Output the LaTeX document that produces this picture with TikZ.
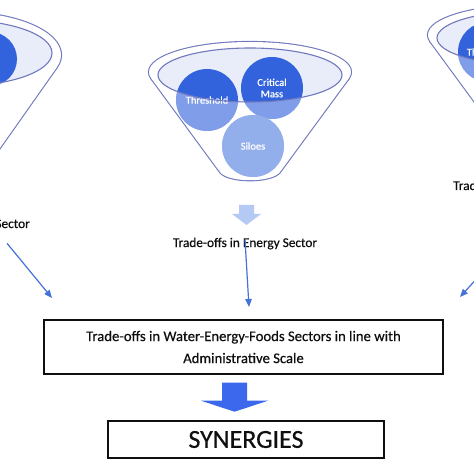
\documentclass[tikz,border=0pt]{standalone}
\usepackage{fontspec}
\setmainfont[FakeBold=0.5]{Carlito}
\usetikzlibrary{arrows.meta,calc}
\definecolor{outl}{RGB}{112,120,190}
\definecolor{rim}{RGB}{232,237,249}
\definecolor{cdark}{RGB}{50,98,220}
\definecolor{clight}{RGB}{82,127,224}
\definecolor{thinblue}{RGB}{68,114,216}
\definecolor{bigblue}{RGB}{59,104,236}
\definecolor{paleblue}{RGB}{180,202,245}
\definecolor{ink}{RGB}{15,15,15}
\begin{document}
\begin{tikzpicture}[x=1bp,y=-1bp,
  funoutline/.style={draw=outl, line width=2.2bp, line join=round},
  rimline/.style={draw=outl, line width=1.1bp},
  ball/.style={circle, fill=cdark, text=white, inner sep=0pt, minimum size=62bp, align=center, font=\fontsize{10.5bp}{11.5bp}\selectfont},
  veil/.style={fill=white, fill opacity=.38, even odd rule},
  sectortxt/.style={inner sep=0pt, text=ink, font=\fontsize{13.3bp}{16bp}\selectfont},
  thinarrow/.style={draw=thinblue, line width=1.2bp, -{Triangle[length=8bp,width=6.5bp]}},
  framebox/.style={draw=ink, line width=1.4bp, inner sep=0pt, text=ink},
]
\useasboundingbox (0,0) rectangle (474,474);
\clip (0,0) rectangle (474,474);

% ---------- left funnel ----------
\draw[funoutline] (-40,55) ellipse [x radius=101bp, y radius=43bp];
\draw[funoutline] (-136.7,67.4) -- (-63,172) -- (-17,172) -- (56.7,67.4) -- cycle;
\fill[white] (-40,55) ellipse [x radius=101bp, y radius=43bp];
\fill[white] (-136.7,67.4) -- (-63,172) -- (-17,172) -- (56.7,67.4) -- cycle;
\fill[rim] (-40,53) ellipse [x radius=92bp, y radius=33bp];
\node[ball, minimum size=54bp] (lcrit) at (-10,59) {};
\begin{scope}
  \clip (-10,59) circle [radius=27bp];
  \fill[veil] (-60,20) rectangle (30,100) (-40,53) ellipse [x radius=92bp, y radius=33bp];
\end{scope}
\draw[rimline] (-40,53) ellipse [x radius=92bp, y radius=33bp];

% ---------- middle funnel ----------
\draw[funoutline] (250,72) ellipse [x radius=101bp, y radius=30bp];
\draw[funoutline] (151.3,78.4) -- (220,172) .. controls (228,183) and (272,183) .. (280,172) -- (348.7,78.4) -- cycle;
\fill[white] (250,72) ellipse [x radius=101bp, y radius=30bp];
\fill[white] (151.3,78.4) -- (220,172) .. controls (228,183) and (272,183) .. (280,172) -- (348.7,78.4) -- cycle;
\fill[rim] (250,75) ellipse [x radius=92bp, y radius=27bp];
\node[ball] (mthr) at (207,100) {Threshold};
\node[ball] (mcrit) at (272,88) {Critical\\Mass};
\node[ball, fill=clight] (msil) at (253,146) {Siloes};
\begin{scope}
  \clip (207,100) circle [radius=31bp] (272,88) circle [radius=31bp] (253,146) circle [radius=31bp];
  \fill[veil] (140,40) rectangle (360,190) (250,75) ellipse [x radius=92bp, y radius=27bp];
\end{scope}
\draw[rimline] (250,75) ellipse [x radius=92bp, y radius=27bp];

% ---------- right funnel ----------
\draw[funoutline] (529,35) ellipse [x radius=101bp, y radius=30bp];
\draw[funoutline] (430.3,41.4) -- (499,135) -- (559,135) -- (627.7,41.4) -- cycle;
\fill[white] (529,35) ellipse [x radius=101bp, y radius=30bp];
\fill[white] (430.3,41.4) -- (499,135) -- (559,135) -- (627.7,41.4) -- cycle;
\fill[rim] (529,38) ellipse [x radius=92bp, y radius=27bp];
\node[ball, minimum size=60bp] (rthr) at (488,52) {Threshold};
\begin{scope}
  \clip (488,52) circle [radius=30bp];
  \fill[veil] (440,10) rectangle (540,100) (529,38) ellipse [x radius=92bp, y radius=27bp];
\end{scope}
\draw[rimline] (529,38) ellipse [x radius=92bp, y radius=27bp];

% ---------- sector texts ----------
\node[sectortxt, anchor=base east] (wtxt) at (30,228) {Trade-offs in Water Sector};
\node[sectortxt, anchor=base] (etxt) at (245,247) {Trade-offs in Energy Sector};
\node[sectortxt, anchor=base west] (ftxt) at (453,190) {Trade-offs in Food Sector};

% pale arrow under middle funnel
\coordinate (pa) at (246.5,205);
\fill[paleblue] (pa) ++(-7.5,0) -- ++(15,0) -- ++(0,9) -- ++(7,0) -- ++(-14.5,11) -- ++(-14.5,-11) -- ++(7,0) -- cycle;

% ---------- boxes ----------
\node[framebox, minimum width=399bp, minimum height=54bp, align=center,
      font=\fontsize{14.7bp}{22bp}\selectfont] (wef) at (243.5,347)
  {Trade-offs in Water-Energy-Foods Sectors in line with\\Administrative Scale};
\node[framebox, minimum width=276bp, minimum height=37bp,
      font=\fontsize{26bp}{30bp}\selectfont] (syn) at (246,439.5) {SYNERGIES};

% ---------- thin arrows ----------
\coordinate (wend) at (52,298);
\coordinate (eend) at (249,307);
\coordinate (fstart) at (490,264);
\coordinate (fend) at (460,297);
\draw[thinarrow] ([xshift=-23bp,yshift=-15bp]wtxt.south east) -- (wend);
\draw[thinarrow] ([yshift=-2bp]etxt.north) -- (eend);
\draw[thinarrow] (fstart) -- (fend);

% ---------- big arrow ----------
\coordinate (ba) at ($(wef.south)+(-9,8)$);
\fill[bigblue] (ba) ++(-12.5,0) -- ++(25,0) -- ++(0,18) -- ++(21,0) -- ++(-33.5,11) -- ++(-33.5,-11) -- ++(21,0) -- cycle;
\end{tikzpicture}
\end{document}
